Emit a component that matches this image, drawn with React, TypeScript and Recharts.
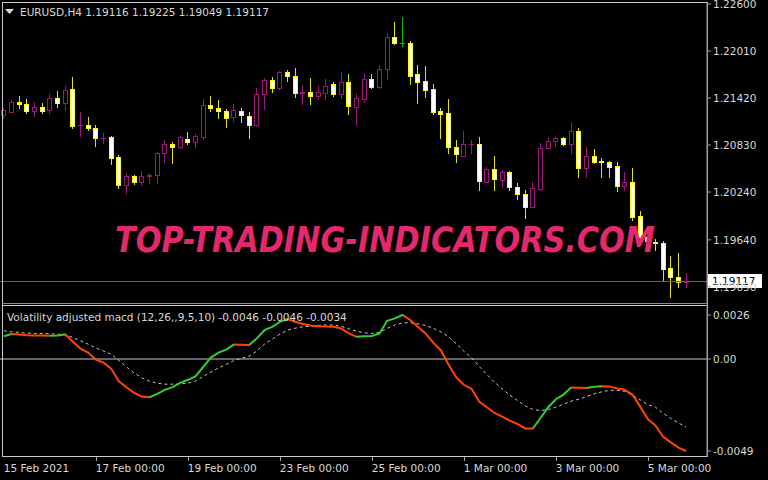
import { ComposedChart, Bar, Line, XAxis, YAxis, ReferenceLine } from "recharts";

// EURUSD H4, 15 Feb 2021 - 5 Mar 2021 (6 bars per trading day)
const days = ["15 Feb", "16 Feb", "17 Feb", "18 Feb", "19 Feb", "22 Feb", "23 Feb", "24 Feb", "25 Feb", "26 Feb", "1 Mar", "2 Mar", "3 Mar", "4 Mar", "5 Mar"];
const hours = ["00:00", "04:00", "08:00", "12:00", "16:00", "20:00"];

const opens = [
  1.21206, 1.21244, 1.2137, 1.21345, 1.21256, 1.21307, 1.21269, 1.2142, 1.21357, 1.21533,
  1.21078, 1.21081, 1.21044, 1.20918, 1.2093, 1.2068, 1.20328, 1.20441, 1.20366, 1.20447,
  1.20453, 1.20729, 1.20843, 1.20805, 1.20905, 1.20868, 1.2093, 1.21332, 1.21295, 1.21256,
  1.21181, 1.21256, 1.21194, 1.21081, 1.2147, 1.21646, 1.21546, 1.21746, 1.21696, 1.21489,
  1.21495, 1.21445, 1.21483, 1.21596, 1.2147, 1.21621, 1.21307, 1.21407, 1.21658, 1.21558,
  1.21784, 1.22186, 1.22117, 1.22111, 1.21721, 1.21633, 1.21533, 1.21256, 1.21231, 1.20805,
  1.20692, 1.20837, 1.20843, 1.20366, 1.20529, 1.20391, 1.20491, 1.20303, 1.20215, 1.20052,
  1.20278, 1.20792, 1.2088, 1.20918, 1.20843, 1.21006, 1.20541, 1.20692, 1.20629, 1.20617,
  1.20567, 1.20316, 1.20366, 1.19939, 1.19676, 1.19612, 1.196, 1.19286, 1.19173, 1.19116,
];
const highs = [
  1.21295, 1.21395, 1.21445, 1.21407, 1.2137, 1.21357, 1.2147, 1.21507, 1.21571, 1.21683,
  1.21244, 1.21181, 1.21081, 1.20981, 1.20943, 1.20704, 1.20478, 1.20453, 1.20503, 1.20478,
  1.20742, 1.20893, 1.20868, 1.20943, 1.20993, 1.20968, 1.21407, 1.21445, 1.21395, 1.21282,
  1.21345, 1.21295, 1.21244, 1.21546, 1.21671, 1.21683, 1.21759, 1.21771, 1.21797, 1.21583,
  1.21671, 1.21571, 1.21658, 1.21621, 1.21746, 1.21721, 1.2147, 1.21734, 1.21721, 1.21834,
  1.22236, 1.22374, 1.22437, 1.22136, 1.21834, 1.21822, 1.21596, 1.21295, 1.21407, 1.20893,
  1.21006, 1.20893, 1.2093, 1.20554, 1.20692, 1.20516, 1.20503, 1.20353, 1.20265, 1.20366,
  1.20855, 1.2093, 1.20925, 1.20925, 1.21119, 1.21044, 1.20805, 1.2078, 1.20667, 1.20629,
  1.20617, 1.20491, 1.20541, 1.20002, 1.19688, 1.1965, 1.1962, 1.19437, 1.19474, 1.19225,
];
const lows = [
  1.21169, 1.2124, 1.21295, 1.21231, 1.21194, 1.21231, 1.21231, 1.21307, 1.21269, 1.21044,
  1.20943, 1.21018, 1.20818, 1.20855, 1.20592, 1.20291, 1.20227, 1.20341, 1.20328, 1.20353,
  1.20353, 1.20617, 1.20604, 1.20792, 1.20843, 1.20805, 1.20905, 1.21256, 1.21169, 1.21056,
  1.21131, 1.21119, 1.20918, 1.21069, 1.21282, 1.21495, 1.21533, 1.21633, 1.21432, 1.21345,
  1.21345, 1.21407, 1.21407, 1.21445, 1.2142, 1.21219, 1.21081, 1.2137, 1.21546, 1.21546,
  1.21658, 1.22098, 1.22073, 1.21596, 1.21357, 1.21432, 1.21219, 1.20918, 1.20729, 1.20617,
  1.20692, 1.20729, 1.20265, 1.20366, 1.20265, 1.20316, 1.20265, 1.20152, 1.19914, 1.20052,
  1.20265, 1.20792, 1.20818, 1.2083, 1.20729, 1.20428, 1.20428, 1.20604, 1.20428, 1.20428,
  1.20253, 1.20265, 1.19889, 1.19638, 1.196, 1.19512, 1.19135, 1.18922, 1.19047, 1.19049,
];
const closes = [
  1.21269, 1.2137, 1.21345, 1.21256, 1.21307, 1.21256, 1.2142, 1.21357, 1.2152, 1.21069,
  1.21081, 1.21044, 1.20918, 1.20922, 1.20667, 1.20328, 1.20441, 1.20366, 1.20441, 1.20453,
  1.20729, 1.20843, 1.20805, 1.2093, 1.20868, 1.20943, 1.21332, 1.21295, 1.21256, 1.21169,
  1.21269, 1.21206, 1.21081, 1.2147, 1.21646, 1.21546, 1.21746, 1.21696, 1.21483, 1.21495,
  1.21445, 1.21495, 1.21571, 1.2147, 1.21621, 1.21319, 1.2142, 1.21658, 1.21558, 1.21784,
  1.22186, 1.22111, 1.22117, 1.21696, 1.21621, 1.2152, 1.21244, 1.21219, 1.20805, 1.20717,
  1.20843, 1.20843, 1.20378, 1.20529, 1.20403, 1.20491, 1.20303, 1.20215, 1.20052, 1.20291,
  1.20792, 1.2088, 1.20918, 1.20843, 1.21006, 1.20541, 1.20692, 1.20617, 1.20617, 1.20554,
  1.20316, 1.20366, 1.19926, 1.19676, 1.19625, 1.196, 1.19273, 1.19173, 1.1911, 1.19117,
];

// Volatility adjusted macd (12,26,,9,5,10)
const macd = [
  0.00114, 0.00125, 0.00122, 0.00119, 0.00118, 0.00117, 0.00116, 0.00118, 0.00123, 0.00086,
  0.00052, 0.00032, -0.00003, -0.00018, -0.00048, -0.00111, -0.00141, -0.00169, -0.00188, -0.00191,
  -0.00174, -0.00154, -0.00141, -0.00119, -0.00104, -0.00087, -0.0004, 0.00007, 0.00032, 0.00047,
  0.00072, 0.00071, 0.0007, 0.00103, 0.00144, 0.00161, 0.00186, 0.002, 0.00186, 0.00175,
  0.00168, 0.00164, 0.00163, 0.00161, 0.00153, 0.00128, 0.00111, 0.00114, 0.00115, 0.00128,
  0.00191, 0.00203, 0.0022, 0.00195, 0.00161, 0.00128, 0.00082, 0.00044, -0.00027, -0.00091,
  -0.00129, -0.00149, -0.00213, -0.00241, -0.0027, -0.00288, -0.00308, -0.00325, -0.00347, -0.00348,
  -0.00295, -0.00241, -0.00201, -0.00178, -0.00143, -0.00144, -0.00145, -0.00139, -0.00136, -0.00137,
  -0.00147, -0.00154, -0.00179, -0.00238, -0.003, -0.00333, -0.00389, -0.00417, -0.00443, -0.0046,
];
const signal = [
  0.00141, 0.00136, 0.00133, 0.00129, 0.00128, 0.00128, 0.00126, 0.00124, 0.00123, 0.00108,
  0.00091, 0.00074, 0.00055, 0.0004, 0.00024, -0.00007, -0.0004, -0.0007, -0.00094, -0.00111,
  -0.00121, -0.00126, -0.00126, -0.00124, -0.00121, -0.00111, -0.00087, -0.00065, -0.00045, -0.00027,
  -0.00008, 0.00004, 0.00014, 0.0004, 0.00074, 0.00099, 0.00124, 0.00144, 0.00154, 0.00161,
  0.00164, 0.00168, 0.0017, 0.0017, 0.00163, 0.00151, 0.00139, 0.00131, 0.00128, 0.00133,
  0.00153, 0.0017, 0.00181, 0.00181, 0.00176, 0.00168, 0.00154, 0.00136, 0.00111, 0.00077,
  0.00039, 0.00007, -0.00037, -0.00077, -0.00116, -0.00149, -0.00181, -0.00208, -0.00234, -0.00252,
  -0.00258, -0.00253, -0.00241, -0.00226, -0.00211, -0.00201, -0.00188, -0.00174, -0.00164, -0.00157,
  -0.00157, -0.00162, -0.00181, -0.00204, -0.00228, -0.00241, -0.00272, -0.00297, -0.0032, -0.0034,
];

const priceTicks = [1.226, 1.2201, 1.2142, 1.2083, 1.2024, 1.1964, 1.1905];
const macdTicks = [0.0026, 0, -0.0049];
const timeTicks = ["15 Feb 00:00", "17 Feb 00:00", "19 Feb 00:00", "23 Feb 00:00", "25 Feb 00:00", "1 Mar 00:00", "3 Mar 00:00", "5 Mar 00:00"];
const firstLabel = "15 Feb 2021";

const FONT = "'DejaVu Sans', sans-serif";
const TXT = "#d8d8d8";
const BULL = "#a0147a";
const BEAR = "#ffff00";
const WICK = "#e4e400";
const UP = "#32cd32";
const DOWN = "#ff4500";

const times = days.flatMap((d) => hours.map((h) => `${d} ${h}`));
const rows = times.map((time, i) => ({
  time,
  open: opens[i],
  high: highs[i],
  low: lows[i],
  close: closes[i],
  range: [lows[i], highs[i]],
  macd: macd[i],
  signal: signal[i],
}));
const last = rows[rows.length - 1];

const Candle = (props: any) => {
  const { x, y, width, height, payload } = props;
  const { open, high, low, close } = payload;
  const toY = (v: number) => y + ((high - v) / (high - low)) * height;
  const cx = Math.floor(x + width / 2) + 0.5;
  const top = Math.round(Math.min(toY(open), toY(close)));
  const bot = Math.round(Math.max(toY(open), toY(close)));
  const doji = open === close;
  const bull = close > open;
  const col = doji ? "#00c000" : bull ? BULL : BEAR;
  return (
    <g>
      <line x1={cx} x2={cx} y1={Math.round(y)} y2={Math.round(y + height) + 1} stroke={doji ? col : bull ? BULL : WICK} />
      {bot - top < 1 ? (
        <line x1={cx - 2.5} x2={cx + 2.5} y1={top + 0.5} y2={top + 0.5} stroke={col} />
      ) : (
        <rect x={cx - 2} y={top + 0.5} width={4} height={bot - top} fill={bull ? "#000" : "#fff"} stroke={col} />
      )}
    </g>
  );
};

const PriceTag = (props: any) => {
  const { viewBox } = props;
  const x = viewBox.x + viewBox.width;
  const y = Math.round(viewBox.y);
  return (
    <g>
      <rect x={x + 1} y={y - 7} width={54} height={14} fill="#ffffff" />
      <text x={x + 5} y={y + 4} fill="#000" fontSize={10.5} fontFamily={FONT}>
        {last.close.toFixed(5)}
      </text>
    </g>
  );
};

const MacdTick = (props: any) => {
  const { x, y, payload } = props;
  const v = payload.value;
  const ty = v === macdTicks[0] ? y + 8 : v === macdTicks[2] ? y - 6 : y;
  return (
    <g>
      <line x1={x - 6} x2={x - 2} y1={ty} y2={ty} stroke="#a0a0a0" />
      <text x={x} y={ty + 4} fill={TXT} fontSize={10.5} fontFamily={FONT}>
        {v === 0 ? "0.00" : v.toFixed(4)}
      </text>
    </g>
  );
};

const TimeTick = (props: any) => {
  const { x, y, payload, index } = props;
  const label = payload.value === timeTicks[0] ? firstLabel : payload.value;
  return (
    <g>
      {index > 0 && <line x1={Math.round(x) + 0.5} x2={Math.round(x) + 0.5} y1={y} y2={y + 4} stroke="#a0a0a0" />}
      <text x={x} y={y + 15} fill={TXT} fontSize={10.5} fontFamily={FONT}>
        {label}
      </text>
    </g>
  );
};

// colour each macd segment by its slope
const stops = macd.slice(1).flatMap((v, i) => {
  const c = v >= macd[i] ? UP : DOWN;
  return [
    { o: i / (macd.length - 1), c },
    { o: (i + 1) / (macd.length - 1), c },
  ];
});

export default function App() {
  return (
    <div style={{ position: "absolute", left: 0, top: 0, width: 768, height: 480, background: "#000", overflow: "hidden" }}>
      <div style={{ position: "absolute", left: 0, top: 0 }}>
        <ComposedChart width={768} height={304} data={rows} margin={{ top: 3, right: 0, bottom: 1, left: 0 }}>
          <XAxis dataKey="time" scale="band" hide padding={{ left: 0, right: 17 }} />
          <YAxis
            orientation="right"
            width={61}
            domain={[1.18847, 1.22613]}
            allowDataOverflow
            ticks={priceTicks}
            interval={0}
            tickSize={4}
            tickMargin={2}
            tickFormatter={(v: number) => v.toFixed(5)}
            tick={{ fill: TXT, fontSize: 10.5, fontFamily: FONT, textAnchor: "start" }}
            axisLine={{ stroke: "#a0a0a0" }}
            tickLine={{ stroke: "#a0a0a0" }}
          />
          <Bar dataKey="range" shape={Candle} isAnimationActive={false} />
          <ReferenceLine y={last.close} stroke="#5c6270" label={<PriceTag />} />
        </ComposedChart>
      </div>
      <div style={{ position: "absolute", left: 0, top: 304 }}>
        <ComposedChart width={768} height={176} data={rows} margin={{ top: 3, right: 0, bottom: 0, left: 0 }}>
          <defs>
            <linearGradient id="macdStroke" x1="0" y1="0" x2="1" y2="0">
              {stops.map((s, i) => (
                <stop key={i} offset={s.o} stopColor={s.c} />
              ))}
            </linearGradient>
          </defs>
          <XAxis
            dataKey="time"
            scale="band"
            padding={{ left: 0, right: 17 }}
            ticks={timeTicks}
            interval={0}
            height={23}
            tickSize={0}
            tickMargin={0}
            tickLine={false}
            axisLine={false}
            tick={<TimeTick />}
          />
          <YAxis
            orientation="right"
            width={61}
            domain={[-0.0049, 0.0026]}
            allowDataOverflow
            ticks={macdTicks}
            interval={0}
            tickSize={4}
            tickMargin={2}
            tickLine={false}
            axisLine={{ stroke: "#a0a0a0" }}
            tick={<MacdTick />}
          />
          <ReferenceLine y={0} stroke="#c8c8c8" />
          <Line dataKey="signal" stroke="#c4c4c4" strokeWidth={1} strokeDasharray="3 3" dot={false} isAnimationActive={false} />
          <Line dataKey="macd" stroke="url(#macdStroke)" strokeWidth={2} dot={false} isAnimationActive={false} />
        </ComposedChart>
      </div>
      <svg width={768} height={480} style={{ position: "absolute", left: 0, top: 0, pointerEvents: "none" }}>
        <g stroke="#c8c8c8" fill="none">
          <line x1={2} x2={708} y1={2.5} y2={2.5} />
          <line x1={2.5} x2={2.5} y1={2} y2={457} />
          <line x1={2} x2={708} y1={303.5} y2={303.5} stroke="#8a8a8a" />
          <line x1={2} x2={708} y1={305.5} y2={305.5} />
          <line x1={2} x2={708} y1={456.5} y2={456.5} />
          <line x1={707.5} x2={707.5} y1={2} y2={457} stroke="#a0a0a0" />
        </g>
        <polygon points="5,9 14,9 9.5,14" fill={TXT} />
        <text x={20} y={16} fill={TXT} fontSize={10.5} fontFamily={FONT}>
          {`EURUSD,H4  ${last.open.toFixed(5)} ${last.high.toFixed(5)} ${last.low.toFixed(5)} ${last.close.toFixed(5)}`}
        </text>
        <text x={7} y={321} fill={TXT} fontSize={10.5} fontFamily={FONT}>
          {`Volatility adjusted macd (12,26,,9,5,10) ${last.macd.toFixed(4)} ${last.macd.toFixed(4)} ${last.signal.toFixed(4)}`}
        </text>
        <text
          x={115}
          y={252}
          fill="#e3286c"
          fontSize={35}
          fontWeight="bold"
          fontStyle="italic"
          fontFamily={FONT}
          textLength={540}
          lengthAdjust="spacingAndGlyphs"
        >
          TOP-TRADING-INDICATORS.COM
        </text>
      </svg>
    </div>
  );
}
